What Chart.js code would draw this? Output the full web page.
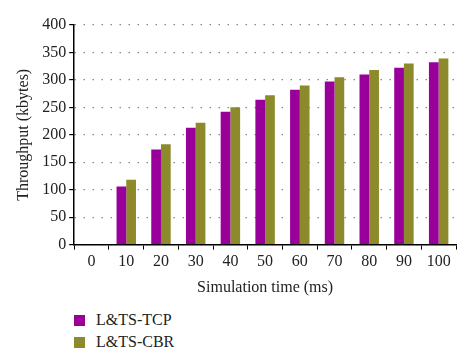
<!DOCTYPE html>
<html>
<head>
<meta charset="utf-8">
<script src="https://cdn.jsdelivr.net/npm/chart.js@4"></script>
<style>
  body { margin: 0; background: #fff; }
  #wrap { position: relative; width: 474px; height: 364px; }
  #legend { position: absolute; left: 74px; top: 309px; font-family: "Liberation Serif", serif; font-size: 16px; color: #222; }
  #legend div { display: flex; align-items: center; height: 22px; }
  #legend span.box { width: 11px; height: 11px; margin-right: 11px; display: inline-block; }
</style>
</head>
<body>
<div id="wrap">
  <canvas id="chart" width="474" height="301"></canvas>
  <div id="legend"></div>
</div>
<script>
// ---- data ----
const times = ['0', '10', '20', '30', '40', '50', '60', '70', '80', '90', '100'];
const tcpValues = [0, 106, 173, 213, 242, 264, 282, 297, 310, 322, 332];
const cbrValues = [0, 118, 183, 222, 250, 272, 290, 305, 318, 330, 339];
const seriesNames = ['L&TS-TCP', 'L&TS-CBR'];
const seriesColors = ['#990099', '#8c8a2a'];

const font = { family: '"Liberation Serif", serif', size: 16 };

const chart = new Chart(document.getElementById('chart'), {
  type: 'bar',
  data: {
    labels: times,
    datasets: [
      { label: seriesNames[0], data: tcpValues, backgroundColor: seriesColors[0] },
      { label: seriesNames[1], data: cbrValues, backgroundColor: seriesColors[1] }
    ]
  },
  options: {
    responsive: false,
    animation: false,
    layout: { padding: { top: 25, right: 18, left: 10 } },
    datasets: { bar: { categoryPercentage: 0.56, barPercentage: 1.0 } },
    plugins: { legend: { display: false }, tooltip: { enabled: false } },
    scales: {
      x: {
        grid: { drawOnChartArea: false, tickLength: 5, tickColor: '#000' },
        border: { color: '#000', width: 1.5 },
        ticks: { color: '#222', font: font, padding: 3 },
        title: { display: true, text: 'Simulation time (ms)', color: '#222', font: { family: font.family, size: 16 }, padding: { top: 3 } }
      },
      y: {
        min: 0, max: 400,
        ticks: { stepSize: 50, color: '#222', font: font, padding: 3 },
        grid: { color: '#888', lineWidth: 1.2, tickLength: 5, tickColor: '#000' },
        border: { color: '#000', width: 1.5, dash: [1.5, 7.5] },
        title: { display: true, text: 'Throughput (kbytes)', color: '#222', font: { family: font.family, size: 16 }, padding: { bottom: 6 } }
      }
    }
  }
});

// legend stacked vertically below the plot
const legend = document.getElementById('legend');
seriesNames.forEach((name, i) => {
  const row = document.createElement('div');
  const box = document.createElement('span');
  box.className = 'box';
  box.style.background = seriesColors[i];
  row.appendChild(box);
  row.appendChild(document.createTextNode(name));
  legend.appendChild(row);
});
</script>
</body>
</html>
